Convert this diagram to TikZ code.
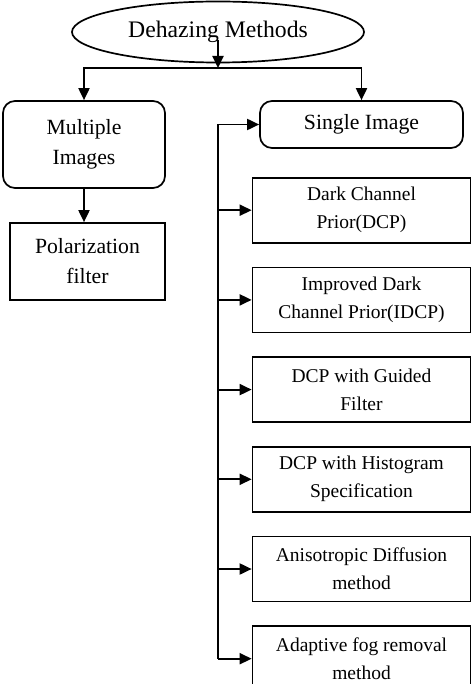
\documentclass[tikz,border=0pt]{standalone}
\usepackage{fontspec}
\setmainfont{Liberation Serif}
\usetikzlibrary{shapes,arrows.meta,positioning,calc}

\begin{document}
\begin{tikzpicture}[x=1pt,y=-1pt,
  >={Triangle[length=12pt,width=11pt]},
  branch/.style={draw,rectangle,rounded corners=12pt,line width=1.7pt,align=center,
    inner sep=0pt,font=\fontsize{21.7}{30}\selectfont},
  method/.style={draw,rectangle,line width=1.7pt,align=center,inner sep=0pt,
    minimum width=218pt,minimum height=65pt,font=\fontsize{19.5}{28}\selectfont},
  link/.style={line width=1.9pt}]
\useasboundingbox (0,0) rectangle (473,684);
% Root
\node[draw,ellipse,line width=1.7pt,inner sep=0pt,minimum width=292pt,minimum height=61pt,
  font=\fontsize{23.7}{28}\selectfont] (dehaze) at (218,32) {Dehazing Methods};
\coordinate (split) at (218,68);

% Multiple images branch
\node[branch,minimum width=162pt,minimum height=87pt] (multi) at (84,144.5) {Multiple\\Images};
\node[draw,rectangle,line width=1.7pt,align=center,inner sep=0pt,minimum width=155pt,
  minimum height=77pt,font=\fontsize{21.7}{30}\selectfont] (polar) at (87.5,261.5) {Polarization\\filter};

% Single image branch
\node[branch,minimum width=203pt,minimum height=47pt] (single) at (361.5,124.5) {Single Image};
\node[method,below=28pt of single] (dcp) {Dark Channel\\Prior(DCP)};
\node[method,below=23pt of dcp] (idcp) {Improved Dark\\Channel Prior(IDCP)};
\node[method,below=23pt of idcp] (guided) {DCP with Guided\\Filter};
\node[method,below=23pt of guided] (hist) {DCP with Histogram\\Specification};
\node[method,below=23pt of hist] (aniso) {Anisotropic Diffusion\\method};
\node[method,below=23pt of aniso] (adapt) {Adaptive fog removal\\method};
\coordinate (trunk) at (218,0);

\draw[link,->] ([yshift=-8pt]dehaze.center) -- (split);
\draw[link,->] (split) -| (multi.north);
\draw[link,->] (split) -| (single.north);
\draw[link,->] (multi.south) -- (multi.south |- polar.north);
\draw[link] (trunk |- single.west) -- (trunk |- adapt.west);
\foreach \m in {single,dcp,idcp,guided,hist,aniso,adapt}
  \draw[link,->] (trunk |- \m.west) -- (\m.west);
\end{tikzpicture}
\end{document}
